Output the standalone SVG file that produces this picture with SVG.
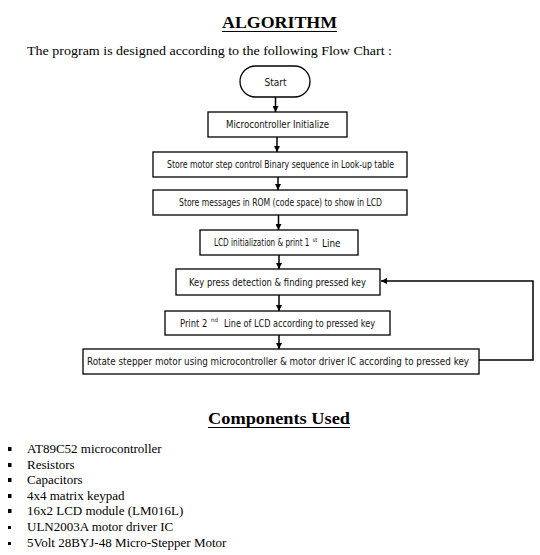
<svg xmlns="http://www.w3.org/2000/svg" width="540" height="555" viewBox="0 0 540 555">
<defs>
<marker id="ah" viewBox="0 0 10 10" refX="10" refY="5" markerWidth="6" markerHeight="6" orient="auto" markerUnits="userSpaceOnUse">
<path d="M0,0 L10,5 L0,10 z" fill="#000"/>
</marker>
<style>
.box{fill:#fff;stroke:#000;stroke-width:1.3}
.ft{font-family:"Liberation Sans Narrow","DejaVu Sans Condensed","Liberation Sans",sans-serif;font-size:11px;fill:#111;dominant-baseline:central}
.sup{font-family:"Liberation Sans Narrow","DejaVu Sans Condensed","Liberation Sans",sans-serif;font-size:6px;fill:#111;dominant-baseline:central}
.conn{fill:none;stroke:#000;stroke-width:1.5;marker-end:url(#ah)}
.h{font-family:"Liberation Serif",serif;font-weight:bold;font-size:17px;fill:#000}
.body{font-family:"Liberation Serif",serif;font-size:13.5px;fill:#000}
.li{font-family:"Liberation Serif",serif;font-size:13px;fill:#000}
.bul{fill:#000}
</style>
</defs>
<rect width="540" height="555" fill="#fff"/>

<text class="h" x="222" y="28" textLength="115" lengthAdjust="spacingAndGlyphs">ALGORITHM</text>
<line x1="222" y1="31.5" x2="337" y2="31.5" stroke="#000" stroke-width="1"/>
<text class="body" x="27" y="55" textLength="365" lengthAdjust="spacingAndGlyphs">The program is designed according to the following Flow Chart :</text>

<g id="start">
<rect class="box" x="240" y="66" width="70" height="31" rx="15.5" ry="15.5"/>
<text class="ft" x="264.5" y="82.5" textLength="22" lengthAdjust="spacingAndGlyphs">Start</text>
</g>
<g id="n1">
<rect class="box" x="208" y="112" width="139" height="25"/>
<text class="ft" x="226" y="124.5" textLength="103" lengthAdjust="spacingAndGlyphs">Microcontroller Initialize</text>
</g>
<g id="n2">
<rect class="box" x="153" y="152" width="254" height="25"/>
<text class="ft" x="167" y="164.5" textLength="227" lengthAdjust="spacingAndGlyphs">Store motor step control Binary sequence in Look-up table</text>
</g>
<g id="n3">
<rect class="box" x="153" y="190" width="254" height="25"/>
<text class="ft" x="179" y="202.5" textLength="203" lengthAdjust="spacingAndGlyphs">Store messages in ROM (code space) to show in LCD</text>
</g>
<g id="n4">
<rect class="box" x="200" y="230" width="158" height="25"/>
<text class="ft" transform="translate(214,242.5) scale(0.735,1)" x="0" y="0">LCD initialization &amp; print 1</text>
<text class="sup" x="312.5" y="239">st</text>
<text class="ft" transform="translate(322,242.5) scale(0.9,1)" x="0" y="0">Line</text>
</g>
<g id="n5">
<rect class="box" x="176" y="269" width="204" height="26"/>
<text class="ft" x="189" y="282" textLength="177" lengthAdjust="spacingAndGlyphs">Key press detection &amp; finding pressed key</text>
</g>
<g id="n6">
<rect class="box" x="165" y="311" width="225" height="24"/>
<text class="ft" transform="translate(180,323) scale(0.85,1)" x="0" y="0">Print 2</text>
<text class="sup" x="211" y="319.5">nd</text>
<text class="ft" x="224" y="323" textLength="151" lengthAdjust="spacingAndGlyphs">Line of LCD according to pressed key</text>
</g>
<g id="n7">
<rect class="box" x="83" y="349" width="396" height="25"/>
<text class="ft" x="87" y="361.5" textLength="382" lengthAdjust="spacingAndGlyphs">Rotate stepper motor using microcontroller &amp; motor driver IC according to pressed key</text>
</g>

<g id="connectors">
<path class="conn" d="M275.5,97 V112"/>
<path class="conn" d="M277,137 V152"/>
<path class="conn" d="M278,177 V190"/>
<path class="conn" d="M278.5,215 V230"/>
<path class="conn" d="M279,255 V269"/>
<path class="conn" d="M279,295 V311"/>
<path class="conn" d="M279,335 V349"/>
<path class="conn" d="M479,360 H533 V281 H381"/>
</g>

<text class="h" x="208" y="424" textLength="142" lengthAdjust="spacingAndGlyphs">Components Used</text>
<line x1="208" y1="427.5" x2="350" y2="427.5" stroke="#000" stroke-width="1"/>

<g id="components">
<rect class="bul" x="8" y="447" width="3.5" height="4"/>
<text class="li" x="27" y="453">AT89C52 microcontroller</text>
<rect class="bul" x="8" y="463" width="3.5" height="4"/>
<text class="li" x="27" y="469">Resistors</text>
<rect class="bul" x="8" y="478" width="3.5" height="4"/>
<text class="li" x="27" y="484">Capacitors</text>
<rect class="bul" x="8" y="494" width="3.5" height="4"/>
<text class="li" x="27" y="500">4x4 matrix keypad</text>
<rect class="bul" x="8" y="509" width="3.5" height="4"/>
<text class="li" x="27" y="515">16x2 LCD module (LM016L)</text>
<rect class="bul" x="8" y="526" width="3" height="3"/>
<text class="li" x="27" y="531">ULN2003A motor driver IC</text>
<rect class="bul" x="8" y="542" width="3" height="3"/>
<text class="li" x="27" y="547">5Volt 28BYJ-48 Micro-Stepper Motor</text>
</g>
</svg>
